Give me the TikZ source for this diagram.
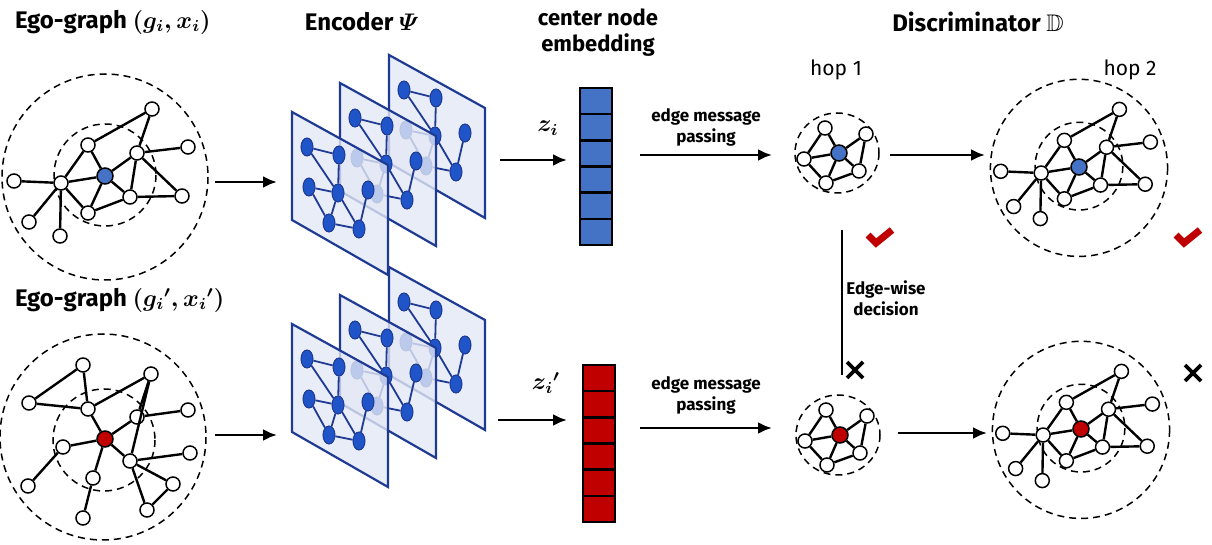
\documentclass[tikz,border=0pt]{standalone}
\usepackage{amsmath,amssymb,bm}
\usepackage{fontspec}
\setmainfont{Fira Sans}
\usetikzlibrary{arrows.meta,shapes.geometric}
\definecolor{cblue}{HTML}{4472C4}
\definecolor{cred}{HTML}{C00000}
\definecolor{navy}{HTML}{1F3A93}
\definecolor{pfill}{HTML}{E3E8F5}
\definecolor{enode}{HTML}{1F55C8}
\tikzset{
 v/.style={circle,draw,line width=0.75pt,fill=white,minimum size=7pt,inner sep=0pt},
 cv/.style={circle,draw,line width=0.75pt,fill=#1,minimum size=8pt,inner sep=0pt},
 ed/.style={line width=1.2pt},
 dc/.style={line width=0.75pt,dash pattern=on 3.5pt off 2.5pt},
 arr/.style={line width=1.4pt,-{Latex[length=7pt,width=6pt]}},
 en/.style={ellipse,draw=navy,line width=0.5pt,fill=enode,minimum width=6pt,minimum height=9pt,inner sep=0pt},
 ee/.style={line width=0.9pt,draw=navy},
 lbl/.style={font=\bfseries\boldmath\fontsize{12}{14}\selectfont,anchor=west},
 sm/.style={font=\bfseries\fontsize{8.5}{10.5}\selectfont,align=center},
 xm/.style={line width=1.8pt},
}
\newcommand{\egoA}[2]{
 \draw[dc] (0,-1) circle (51);
 \draw[dc] (0,1) circle (103);
 \node[cv=#2] (#1C) at (0,0) {};
 \node[v] (#1a) at (-17,-31) {}; \node[v] (#1b) at (47,-67) {};
 \node[v] (#1c) at (32,-23) {}; \node[v] (#1d) at (83,-29) {};
 \node[v] (#1e) at (-44,7) {}; \node[v] (#1f) at (-91,5) {};
 \node[v] (#1g) at (25,21) {}; \node[v] (#1h) at (77,20) {};
 \node[v] (#1i) at (-17,37) {}; \node[v] (#1j) at (-76,46) {};
 \node[v] (#1k) at (-45,60) {};
 \foreach \p/\q in {f/e,e/a,a/C,a/b,b/c,c/d,c/C,c/g,c/h,g/h,C/g,C/i,C/e,e/i,g/i,e/j,e/k}
   \draw[ed] (#1\p) -- (#1\q);
}
\newcommand{\egoB}[2]{
 \draw[dc] (-1,1) circle (51);
 \draw[dc] (-2,-2) circle (103);
 \node[cv=#2] (#1C) at (0,0) {};
 \node[v] (#1a) at (-17,-30) {}; \node[v] (#1b) at (-22,-74) {};
 \node[v] (#1c) at (-76,-36) {}; \node[v] (#1d) at (46,-65) {};
 \node[v] (#1e) at (32,-22) {}; \node[v] (#1f) at (83,-29) {};
 \node[v] (#1g) at (-42,8) {}; \node[v] (#1h) at (-77,47) {};
 \node[v] (#1i) at (25,22) {}; \node[v] (#1j) at (85,14) {};
 \node[v] (#1k) at (-12,39) {}; \node[v] (#1l) at (-22,79) {};
 \node[v] (#1m) at (68,45) {}; \node[v] (#1n) at (42,71) {};
 \foreach \p/\q in {c/b,c/a,b/a,a/C,a/d,d/e,e/C,e/f,d/i,C/g,g/h,C/k,k/l,C/i,i/j,i/m,i/n,m/n}
   \draw[ed] (#1\p) -- (#1\q);
}
\newcommand{\hopA}[2]{
 \draw[dc] (-2,0) ellipse (42 and 40);
 \node[cv=#2] (#1C) at (0,0) {};
 \node[v] (#1a) at (-14,-25) {}; \node[v] (#1b) at (27,-19) {};
 \node[v] (#1c) at (-35,6) {}; \node[v] (#1d) at (20,18) {};
 \node[v] (#1e) at (-13,30) {};
 \foreach \p/\q in {a/C,a/c,c/C,c/e,e/C,e/d,d/C,C/b,b/d}
   \draw[ed] (#1\p) -- (#1\q);
}
\newcommand{\plane}[1]{
 \draw[navy,line width=1.1pt,fill=pfill,fill opacity=0.8] (0,0) -- (96,53) -- (96,163) -- (0,108) -- cycle;
 \node[en] (#1n1) at (15,35) {}; \node[en] (#1n2) at (47,43) {};
 \node[en] (#1n3) at (17,75) {}; \node[en] (#1n4) at (46,81) {};
 \node[en] (#1n5) at (76,78) {}; \node[en] (#1n6) at (37,111) {};
 \node[en] (#1n7) at (67,117) {};
 \foreach \p/\q in {1/2,1/4,2/4,3/4,4/6,4/7,3/6,6/7,5/7}
   \draw[ee] (#1n\p) -- (#1n\q);
}
\begin{document}
\begin{tikzpicture}[x=0.5pt,y=-0.5pt]
\useasboundingbox (0,0) rectangle (1212,545);
\node[lbl] (t1) at (8,22) {Ego-graph $(g_i,x_i)$};
\node[lbl] (t2) at (8,300) {Ego-graph $({g_i}',{x_i}')$};
\node[lbl,anchor=center] (t3) at (362,22) {Encoder $\varPsi$};
\node[lbl,anchor=center,align=center,font=\bfseries\fontsize{11}{13}\selectfont] (t4) at (598,33) {center node\\embedding};
\node[lbl,anchor=center] (t5) at (978,22) {Discriminator $\mathbb{D}$};
\node[font=\fontsize{10.5}{12}\selectfont] (h1) at (836,70) {hop 1};
\node[font=\fontsize{10.5}{12}\selectfont] (h2) at (1130,70) {hop 2};
\begin{scope}[shift={(105,176)}]\egoA{L}{cblue}\end{scope}
\begin{scope}[shift={(105,439)}]\egoB{M}{cred}\end{scope}
\begin{scope}[shift={(1079,167)},scale=0.86]\egoA{P}{cblue}\end{scope}
\begin{scope}[shift={(1081,429)},scale=0.86]\egoA{Q}{cred}\end{scope}
\begin{scope}[shift={(839,153)}]\hopA{H}{cblue}\end{scope}
\begin{scope}[shift={(840,435)}]\hopA{K}{cred}\end{scope}
\foreach \y/\s in {0/A,212/B}{
 \begin{scope}[shift={(389,55+\y)}]\plane{\s3}\end{scope}
 \begin{scope}[shift={(340,83+\y)}]\plane{\s2}\end{scope}
 \begin{scope}[shift={(292,112+\y)}]\plane{\s1}\end{scope}
}
\foreach \k in {0,...,5}{
 \node[draw,line width=1.3pt,fill=cblue,minimum width=16pt,minimum height=13.1pt,inner sep=0pt] (zb\k) at (596,{101+26.2*\k}) {};
 \node[draw,line width=1.3pt,fill=cred,minimum width=16pt,minimum height=13.1pt,inner sep=0pt] (zr\k) at (599,{378+26.2*\k}) {};
}
\node[font=\large\boldmath] (zi) at (548,128) {$z_i$};
\node[font=\large\boldmath] (zj) at (546,383) {${z_i}'$};
\coordinate (a1s) at (215,182); \coordinate (a1e) at (277,182);
\coordinate (a2s) at (500,160); \coordinate (a2e) at (567,160);
\coordinate (a3s) at (640,155); \coordinate (a3e) at (772,155);
\coordinate (a4s) at (890,155); \coordinate (a4e) at (985,155);
\coordinate (b1s) at (215,435); \coordinate (b1e) at (277,435);
\coordinate (b2s) at (498,420); \coordinate (b2e) at (567,420);
\coordinate (b3s) at (640,428); \coordinate (b3e) at (772,428);
\coordinate (b4s) at (898,433); \coordinate (b4e) at (987,433);
\foreach \a in {a1,a2,a3,a4,b1,b2,b3,b4} \draw[arr] (\a s) -- (\a e);
\node[sm] (m1) at (706,127) {edge message\\passing};
\node[sm] (m2) at (706,395) {edge message\\passing};
\coordinate (vt) at (842,230); \coordinate (vb) at (842,375);
\draw[line width=1.1pt] (vt) -- (vb);
\node[sm] (ew) at (886,298) {Edge-wise\\decision};
\foreach \x in {880,1188}
 \draw[cred,line width=3.5pt] (\x-12,235) -- (\x-4,243) -- (\x+12,230);
\foreach \x/\y in {855/370,1193/373}{
 \draw[xm] (\x-8,\y-8) -- (\x+8,\y+8);
 \draw[xm] (\x-8,\y+8) -- (\x+8,\y-8);
}
\end{tikzpicture}
\end{document}
